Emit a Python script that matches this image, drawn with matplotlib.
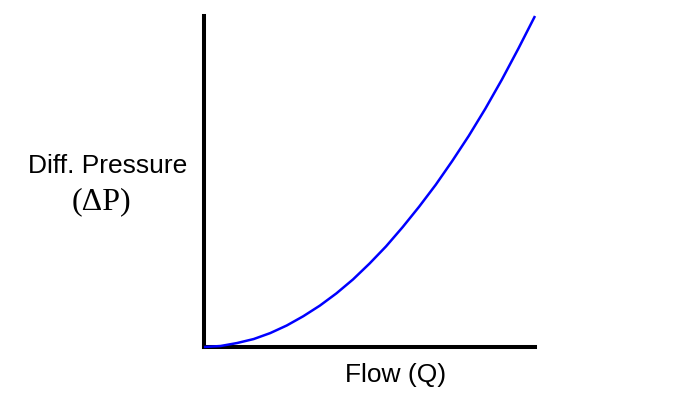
import matplotlib
matplotlib.use("Agg")
import matplotlib.pyplot as plt

# flow (Q) and differential pressure (arbitrary units)
flow = [0, 0.5, 1, 1.5, 2, 2.5, 3, 3.5, 4, 4.5, 5, 5.5, 6, 6.5, 7, 7.5, 8, 8.5, 9, 9.5, 10]
pressure = [0, 0.03, 0.12, 0.24, 0.42, 0.65, 0.93, 1.25, 1.62, 2.04, 2.52,
            3.04, 3.62, 4.24, 4.9, 5.62, 6.38, 7.2, 8.08, 9.02, 10]

X_LABEL = "Flow (Q)"
Y_LABEL = "Diff. Pressure"
Y_SYMBOL = "(\u0394P)"

W, H = 681, 398


def main():
    fig = plt.figure(figsize=(W / 100, H / 100), dpi=100)
    ax = fig.add_axes([204 / W, 1 - 347 / H, 331 / W, 331 / H])

    ax.plot(flow, pressure, color="#0000ff", linewidth=1.8,
            solid_capstyle="butt", zorder=5, clip_on=False)
    ax.set_xlim(0, 10)
    ax.set_ylim(0, 10)

    for side in ("top", "right"):
        ax.spines[side].set_visible(False)
    for side in ("left", "bottom"):
        ax.spines[side].set_linewidth(2.9)
        ax.spines[side].set_color("black")
        ax.spines[side].set_capstyle("projecting")
        ax.spines[side].set_zorder(2)
    ax.set_xticks([])
    ax.set_yticks([])

    fig.text(108 / W, 1 - 173 / H, Y_LABEL, ha="center", va="baseline",
             fontsize=19, family="Liberation Sans")
    fig.text(101 / W, 1 - 209 / H, Y_SYMBOL, ha="center", va="baseline",
             fontsize=23, family="Liberation Serif")
    fig.text(396 / W, 1 - 382 / H, X_LABEL, ha="center", va="baseline",
             fontsize=19, family="Liberation Sans")

    fig.savefig("out.png", dpi=100, facecolor="white")
    plt.close(fig)


if __name__ == "__main__":
    main()
